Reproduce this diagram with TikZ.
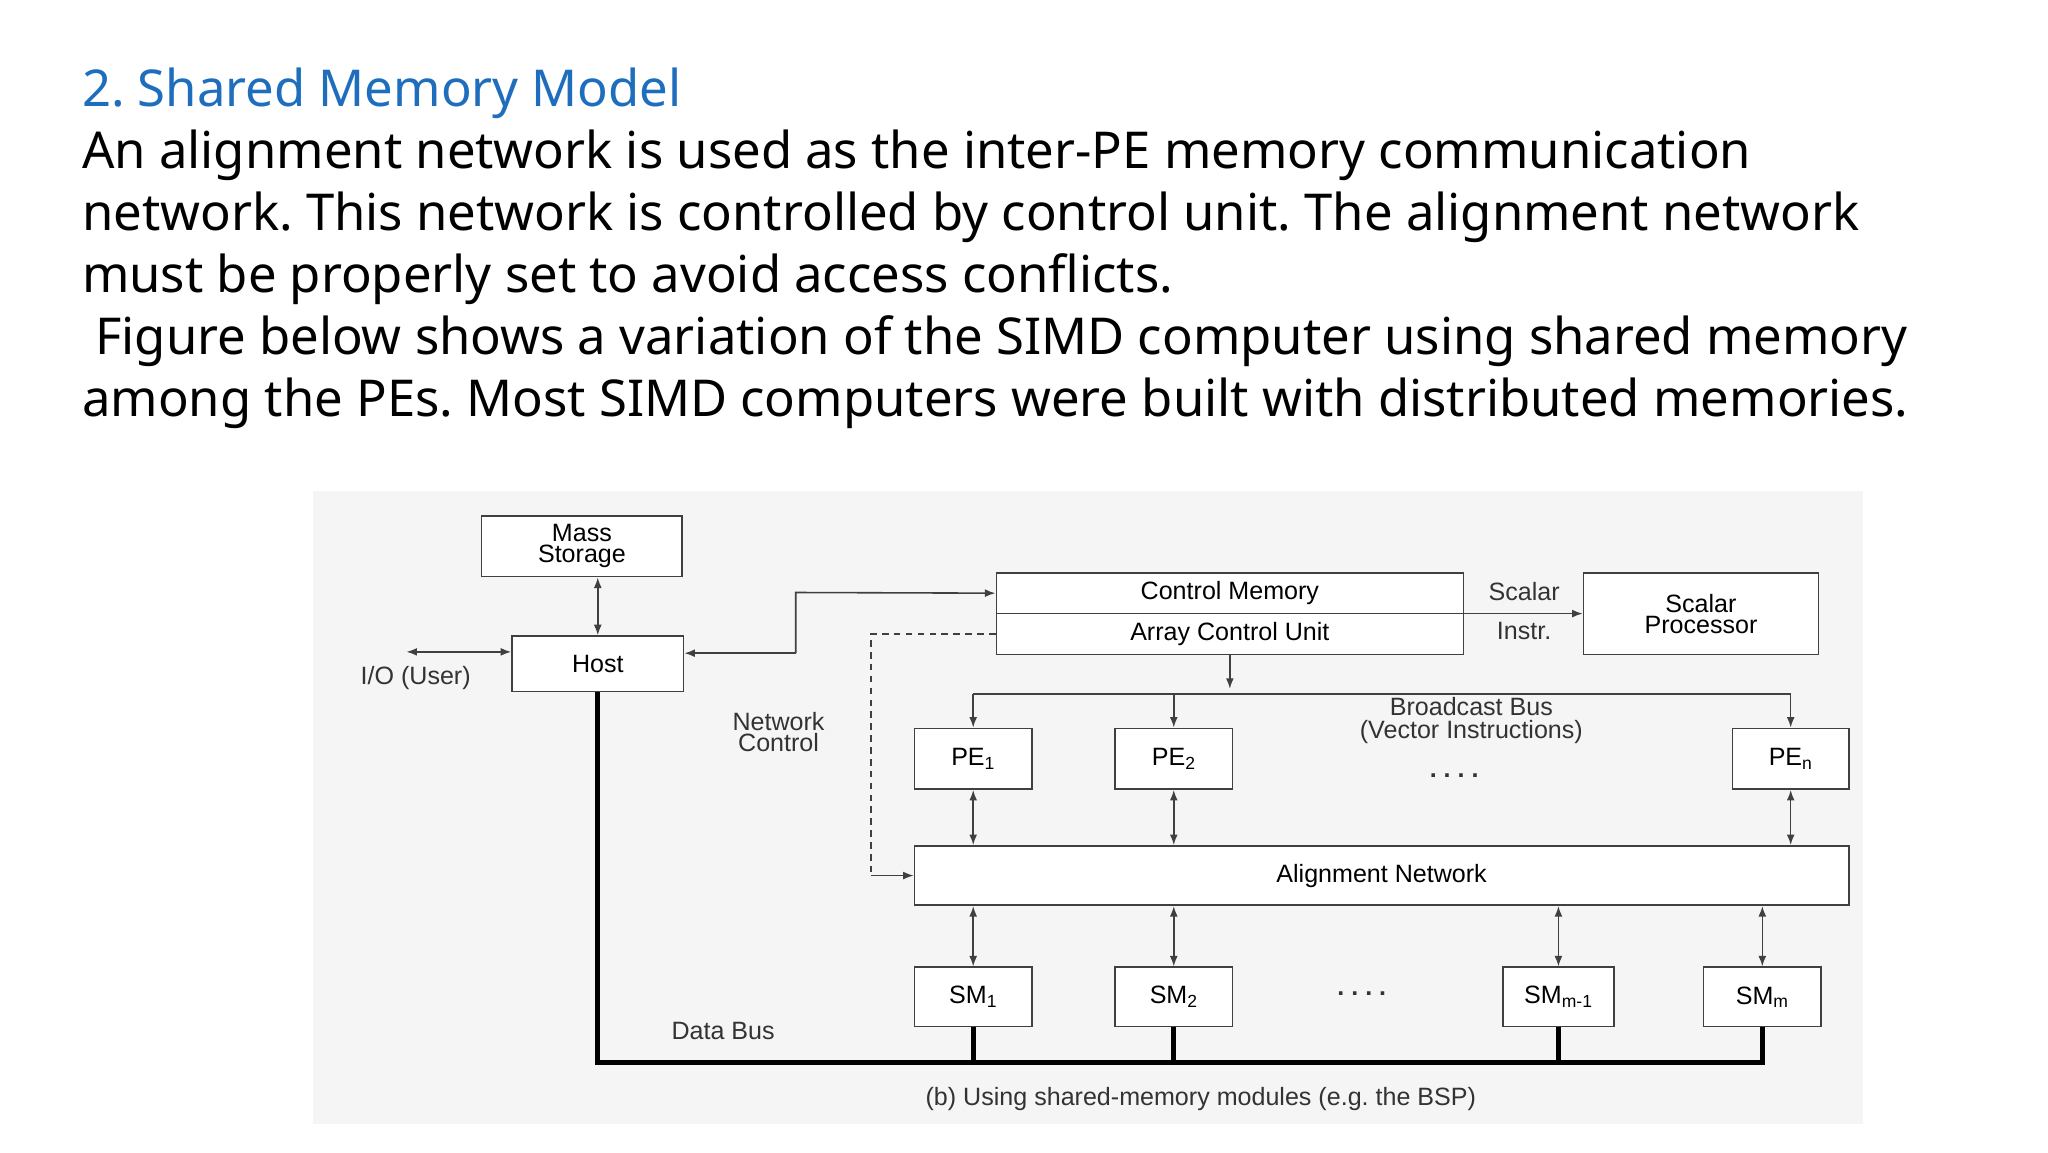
\documentclass[tikz,border=0pt]{standalone}
\usepackage{fontspec}
\setmainfont{Noto Sans}
\newfontfamily\diafont{Liberation Sans}
\usetikzlibrary{arrows.meta}
\definecolor{titleblue}{RGB}{31,110,190}
\definecolor{panel}{RGB}{245,245,245}
\frenchspacing
\begin{document}
\begin{tikzpicture}[x=1pt,y=-1pt,
  txt/.style={anchor=base west,inner sep=0pt,font=\fontsize{38.5}{44}\selectfont},
  box/.style={draw=black!75,line width=1.2pt,fill=white,inner sep=0pt,font=\diafont\fontsize{19}{20}\selectfont,align=center},
  lbl/.style={inner sep=0pt,font=\diafont\fontsize{19}{20}\selectfont,align=center,text=black!80},
  ar/.style={draw=black!75,line width=1.2pt,-{Latex[length=8pt,width=6pt]}},
  dar/.style={draw=black!75,line width=1.2pt,{Latex[length=8pt,width=6pt]}-{Latex[length=8pt,width=6pt]}},
  bus/.style={draw=black,line width=4pt}]
\useasboundingbox (0,0) rectangle (1552,873);
\fill[white] (0,0) rectangle (1552,873);
% text
\node[txt,text=titleblue] (t0) at (62,81) {2. Shared Memory Model};
\node[txt] (t1) at (62,128) {An alignment network is used as the inter-PE memory communication};
\node[txt] (t2) at (62,175) {network. This network is controlled by control unit. The alignment network};
\node[txt] (t3) at (62,222) {must be properly set to avoid access conflicts.};
\node[txt] (t4) at (62,269) {\ Figure below shows a variation of the SIMD computer using shared memory};
\node[txt] (t5) at (62,316) {among the PEs. Most SIMD computers were built with distributed memories.};
% panel
\fill[panel] (237,372) rectangle (1412,852);
% boxes
\node[box,minimum width=152pt,minimum height=46pt] (ms) at (441,414) {Mass\\[-4pt]Storage};
\node[box,minimum width=130pt,minimum height=42pt] (host) at (453,503) {Host};
\node[box,minimum width=354pt,minimum height=31pt] (cm) at (932,449.5) {Control Memory};
\node[box,minimum width=354pt,minimum height=31pt] (acu) at (932,480.5) {Array Control Unit};
\node[box,minimum width=178pt,minimum height=62pt] (sp) at (1289,465) {Scalar\\[-4pt]Processor};
\node[box,minimum width=89pt,minimum height=46pt] (pe1) at (737.5,575) {PE\textsubscript{1}};
\node[box,minimum width=89pt,minimum height=46pt] (pe2) at (889.5,575) {PE\textsubscript{2}};
\node[box,minimum width=88pt,minimum height=46pt] (pen) at (1357,575) {PE\textsubscript{n}};
\node[box,minimum width=708pt,minimum height=45pt] (an) at (1047,663.5) {Alignment Network};
\node[box,minimum width=89pt,minimum height=45pt] (sm1) at (737.5,755.5) {SM\textsubscript{1}};
\node[box,minimum width=89pt,minimum height=45pt] (sm2) at (889.5,755.5) {SM\textsubscript{2}};
\node[box,minimum width=84pt,minimum height=45pt] (smm1) at (1181,755.5) {SM\textsubscript{m-1}};
\node[box,minimum width=89pt,minimum height=45pt] (smm) at (1335.5,755.5) {SM\textsubscript{m}};
% labels
\node[lbl] (io) at (315,514) {I/O (User)};
\node[lbl] (nc) at (590,555) {Network\\[-4pt]Control};
\node[lbl] (sc) at (1155,448) {Scalar};
\node[lbl] (ins) at (1155,478) {Instr.};
\node[lbl] (bb) at (1115,546) {Broadcast Bus\\[-3pt](Vector Instructions)};
\node[lbl] (d1) at (1102,588) {\textbf{. . . .}};
\node[lbl] (d2) at (1032,753) {\textbf{. . . .}};
\node[lbl] (db) at (548,781) {Data Bus};
\node[lbl] (cap) at (910,833) {(b) Using shared-memory modules (e.g. the BSP)};
% connectors
\coordinate (iol) at (308,494);
\draw[dar] (iol) -- (host.west |- iol);
\draw[dar] (ms.south -| host) -- (host.north);
\draw[ar] (603,495) -- (host.east |- 0,495);
\draw[ar] (603,495) -- (603,449) -- (cm.west);
\draw[ar] (cm.east |- 0,465) -- (sp.west |- 0,465);
\draw[draw=black!75,line width=1pt,dash pattern=on 5pt off 4pt] (acu.west) -- (660,480.5) -- (660,663.5);
\draw[ar] (660,663.5) -- (an.west);
\draw[ar] (acu.south) -- (932,522);
\draw[draw=black!75,line width=1.2pt] (737.5,526) -- (1357,526);
\draw[ar] (737.5,526) -- (pe1.north);
\draw[ar] (889.5,526) -- (pe2.north);
\draw[ar] (1357,526) -- (pen.north);
\foreach \p in {pe1,pe2,pen} \draw[dar] (\p.south) -- (\p.south |- an.north);
\foreach \s in {sm1,sm2,smm1,smm} \draw[dar] (\s.north |- an.south) -- (\s.north);
\draw[bus] (host.south) -- (453,805) -- (1337.5,805);
\foreach \s in {sm1,sm2,smm1,smm} \draw[bus] (\s.south) -- (\s.south |- 0,805);
\end{tikzpicture}
\end{document}
